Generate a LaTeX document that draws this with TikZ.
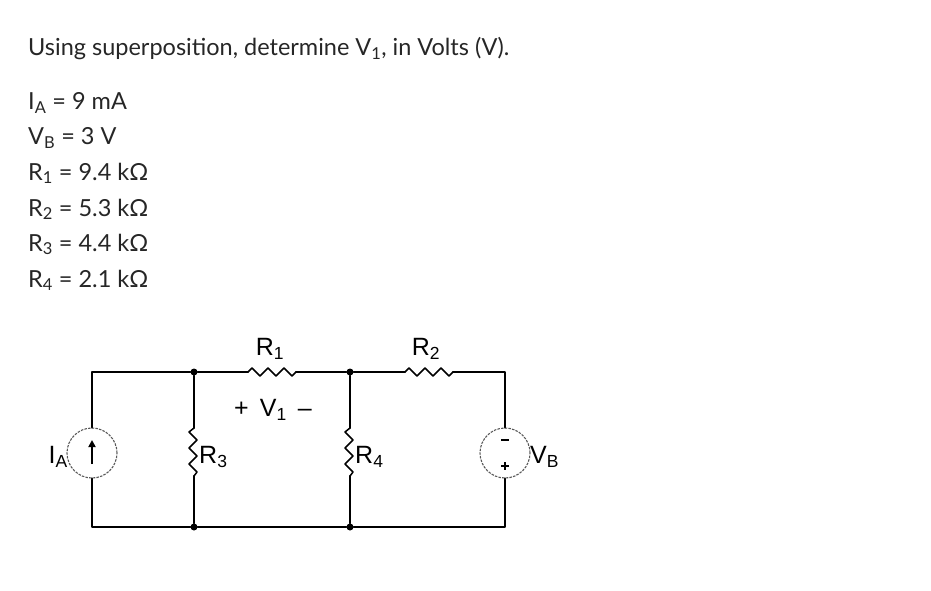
\documentclass[tikz,border=0pt]{standalone}
\usepackage{fontspec}
\setmainfont{Lato}
\newfontfamily\arial{Liberation Sans}
\usetikzlibrary{arrows.meta}
\begin{document}
\begin{tikzpicture}[x=1pt,y=-1pt,
  wire/.style={line width=2.2pt,line cap=round,line join=round},
  res/.style={line width=1.5pt,line join=round},
  src/.style={draw=gray!70!black,dash pattern=on 2.5pt off 1.2pt,line width=1.1pt},
  dot/.style={circle,fill=black,inner sep=0pt,minimum size=7pt},
  txt/.style={anchor=base west,inner sep=0pt,font=\fontsize{23.5}{27}\selectfont,text=black!85},
  lbl/.style={inner sep=0pt,font=\arial\fontsize{25}{28}\selectfont}]
\useasboundingbox (0,0) rectangle (931,591);
\node[txt] (t0) at (28,56) {Using superposition, determine V\textsubscript{1}, in Volts (V).};
\node[txt] (t1) at (28,110) {I\textsubscript{A} = 9 mA};
\node[txt] (t2) at (28,145) {V\textsubscript{B} = 3 V};
\node[txt] (t3) at (28,180) {R\textsubscript{1} = 9.4 kΩ};
\node[txt] (t4) at (28,216) {R\textsubscript{2} = 5.3 kΩ};
\node[txt] (t5) at (28,251) {R\textsubscript{3} = 4.4 kΩ};
\node[txt] (t6) at (28,287) {R\textsubscript{4} = 2.1 kΩ};
% nodes
\coordinate (TL) at (92,372); \coordinate (BL) at (92,527);
\node[dot] (T1) at (194,372) {}; \node[dot] (B1) at (194,527) {};
\node[dot] (T2) at (350,372) {}; \node[dot] (B2) at (350,527) {};
\coordinate (TR) at (505,372); \coordinate (BR) at (505,527);
\node[circle,src,minimum size=50pt,inner sep=0pt] (IA) at (92,453) {};
\node[circle,src,minimum size=50pt,inner sep=0pt] (VB) at (505,453) {};
% wires
\draw[wire] (IA.north) -- (TL) -- (T1) -- (248,372);
\draw[wire] (296,372) -- (T2) -- (405,372);
\draw[wire] (453,372) -- (TR) -- (VB.north);
\draw[wire] (VB.south) -- (BR) -- (B2) -- (B1) -- (BL) -- (IA.south);
\draw[wire] (T1) -- (194,428); \draw[wire] (194,476) -- (B1);
\draw[wire] (T2) -- (350,428); \draw[wire] (350,476) -- (B2);
% resistors
\draw[res] (248,372) -- (252,368) -- (260,376) -- (268,368) -- (276,376) -- (284,368) -- (292,376) -- (296,372);
\draw[res] (405,372) -- (409,368) -- (417,376) -- (425,368) -- (433,376) -- (441,368) -- (449,376) -- (453,372);
\draw[res] (194,428) -- (189,432) -- (197,440) -- (189,448) -- (197,456) -- (189,464) -- (197,472) -- (194,476);
\draw[res] (350,428) -- (345,432) -- (353,440) -- (345,448) -- (353,456) -- (345,464) -- (353,472) -- (350,476);
% source symbols
\draw[line width=2.4pt,-{Triangle[length=7pt,width=7pt]}] (92,464) -- (92,440);
\draw[line width=2.2pt] (501,440) -- (509,440);
\draw[line width=2.2pt] (501,466) -- (509,466) (505,462) -- (505,470);
% labels
\node[lbl] (lR1) at (270,349) {R\textsubscript{1}};
\node[lbl] (lR2) at (426,349) {R\textsubscript{2}};
\node[lbl] (lV1) at (273,410) {+ \,V\textsubscript{1} \,–};
\node[lbl,anchor=west] (lR3) at (199,457) {R\textsubscript{3}};
\node[lbl,anchor=west] (lR4) at (355,457) {R\textsubscript{4}};
\node[lbl,anchor=east] (lIA) at (68,457) {I\textsubscript{A}};
\node[lbl,anchor=west] (lVB) at (530,457) {V\textsubscript{B}};
\end{tikzpicture}
\end{document}
